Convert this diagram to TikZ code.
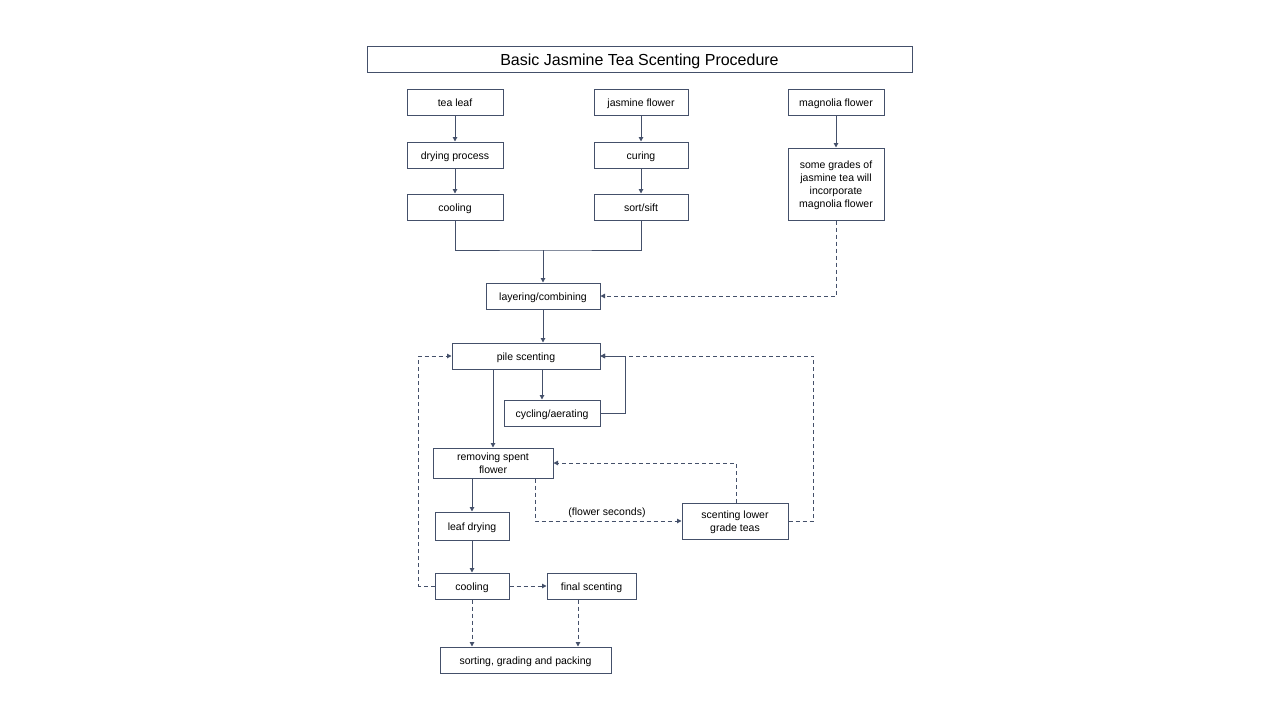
\documentclass[tikz,border=0pt]{standalone}
\usepackage{fontspec}
\setmainfont{Liberation Sans}
\usetikzlibrary{arrows.meta,calc}
\definecolor{ln}{HTML}{44506A}
\newcommand{\mlines}[1]{\raisebox{-1.8pt}[\height][\depth]{\def\arraystretch{1}\begin{tabular}{@{}c@{}}#1\end{tabular}}}
\begin{document}
\begin{tikzpicture}[x=1pt,y=-1pt,
  box/.style={draw=ln,line width=1pt,rectangle,inner sep=0pt,align=center,font=\fontsize{10.5}{13}\selectfont,text=black},
  one/.style={text height=10.5pt,text depth=1.5pt},
  arr/.style={draw=ln,line width=1pt,-{Triangle[length=4.5pt,width=4.5pt]}},
  ln/.style={draw=ln,line width=1pt},
  dsh/.style={dash pattern=on 4pt off 3pt}]
\useasboundingbox (0,0) rectangle (1280,720);
\node[box,text height=14pt,text depth=1pt,minimum width=545,minimum height=26,font=\fontsize{16}{19}\selectfont] (title) at (639.5,59) {Basic Jasmine Tea Scenting Procedure};
\node[box,one,minimum width=96,minimum height=26] (tea) at (455,102) {tea leaf};
\node[box,one,minimum width=96,minimum height=26] (dry) at (455,155) {drying process};
\node[box,one,minimum width=96,minimum height=26] (cool1) at (455,207) {cooling};
\node[box,one,minimum width=94,minimum height=26] (jas) at (641,102) {jasmine flower};
\node[box,one,minimum width=94,minimum height=26] (cur) at (641,155) {curing};
\node[box,one,minimum width=94,minimum height=26] (sift) at (641,207) {sort/sift};
\node[box,one,minimum width=96,minimum height=26] (mag) at (836,102) {magnolia flower};
\node[box,minimum width=96,minimum height=72] (mag2) at (836,184) {\mlines{some grades of\\jasmine tea will\\incorporate\\magnolia flower}};
\node[box,one,minimum width=114,minimum height=26] (layer) at (543,296) {layering/combining};
\node[box,one,minimum width=148,minimum height=26] (pile) at (526,356) {pile scenting};
\node[box,one,minimum width=96,minimum height=26] (cyc) at (552,413) {cycling/aerating};
\node[box,minimum width=120,minimum height=30] (rem) at (493,463) {\mlines{removing spent\\flower}};
\node[box,one,minimum width=74,minimum height=28] (leaf) at (472,526) {leaf drying};
\node[box,one,minimum width=74,minimum height=26] (cool2) at (472,586) {cooling};
\node[box,one,minimum width=89,minimum height=26] (fin) at (591.5,586) {final scenting};
\node[box,one,minimum width=171,minimum height=26] (sort) at (525.5,660) {sorting, grading and packing};
\node[box,minimum width=106,minimum height=36] (low) at (735,521) {\mlines{scenting lower\\grade teas}};
\coordinate (j) at (543,250);
% connectors
\draw[arr] (tea) -- (dry);
\draw[arr] (dry) -- (cool1);
\draw[arr] (jas) -- (cur);
\draw[arr] (cur) -- (sift);
\draw[arr] (mag) -- (mag2);
\draw[ln] (cool1.south) |- (j) -| (sift.south);
\draw[arr] (j) -- (layer.north);
\draw[arr,dsh] (mag2.south) |- (layer.east);
\draw[arr] (layer.south) -- (layer.south |- pile.north);
\draw[arr] ([xshift=16]pile.south) -- ([xshift=16]pile.south |- cyc.north);
\draw[arr] (cyc.east) -- ++(25,0) |- (pile.east);
\draw[arr] (pile.south -| rem.north) -- (rem.north);
\draw[arr] (rem.south -| leaf.north) -- (leaf.north);
\draw[arr] (leaf) -- (cool2);
\draw[arr,dsh] (cool2) -- (fin);
\draw[arr,dsh] (cool2.south) -- (cool2.south |- sort.north);
\draw[arr,dsh] ([xshift=-13.5]fin.south) -- ([xshift=-13.5]fin.south |- sort.north);
\draw[arr,dsh] (cool2.west) -- ++(-16,0) |- (pile.west);
\draw[arr,dsh] ([xshift=42]rem.south) |- (low.west);
\node[font=\fontsize{10.5}{13}\selectfont,inner sep=0pt,one] (fs) at (607,511) {(flower seconds)};
\draw[arr,dsh] ([xshift=1]low.north) |- (rem.east);
\draw[arr,dsh] (low.east) -- ++(25,0) |- (pile.east);
\end{tikzpicture}
\end{document}
